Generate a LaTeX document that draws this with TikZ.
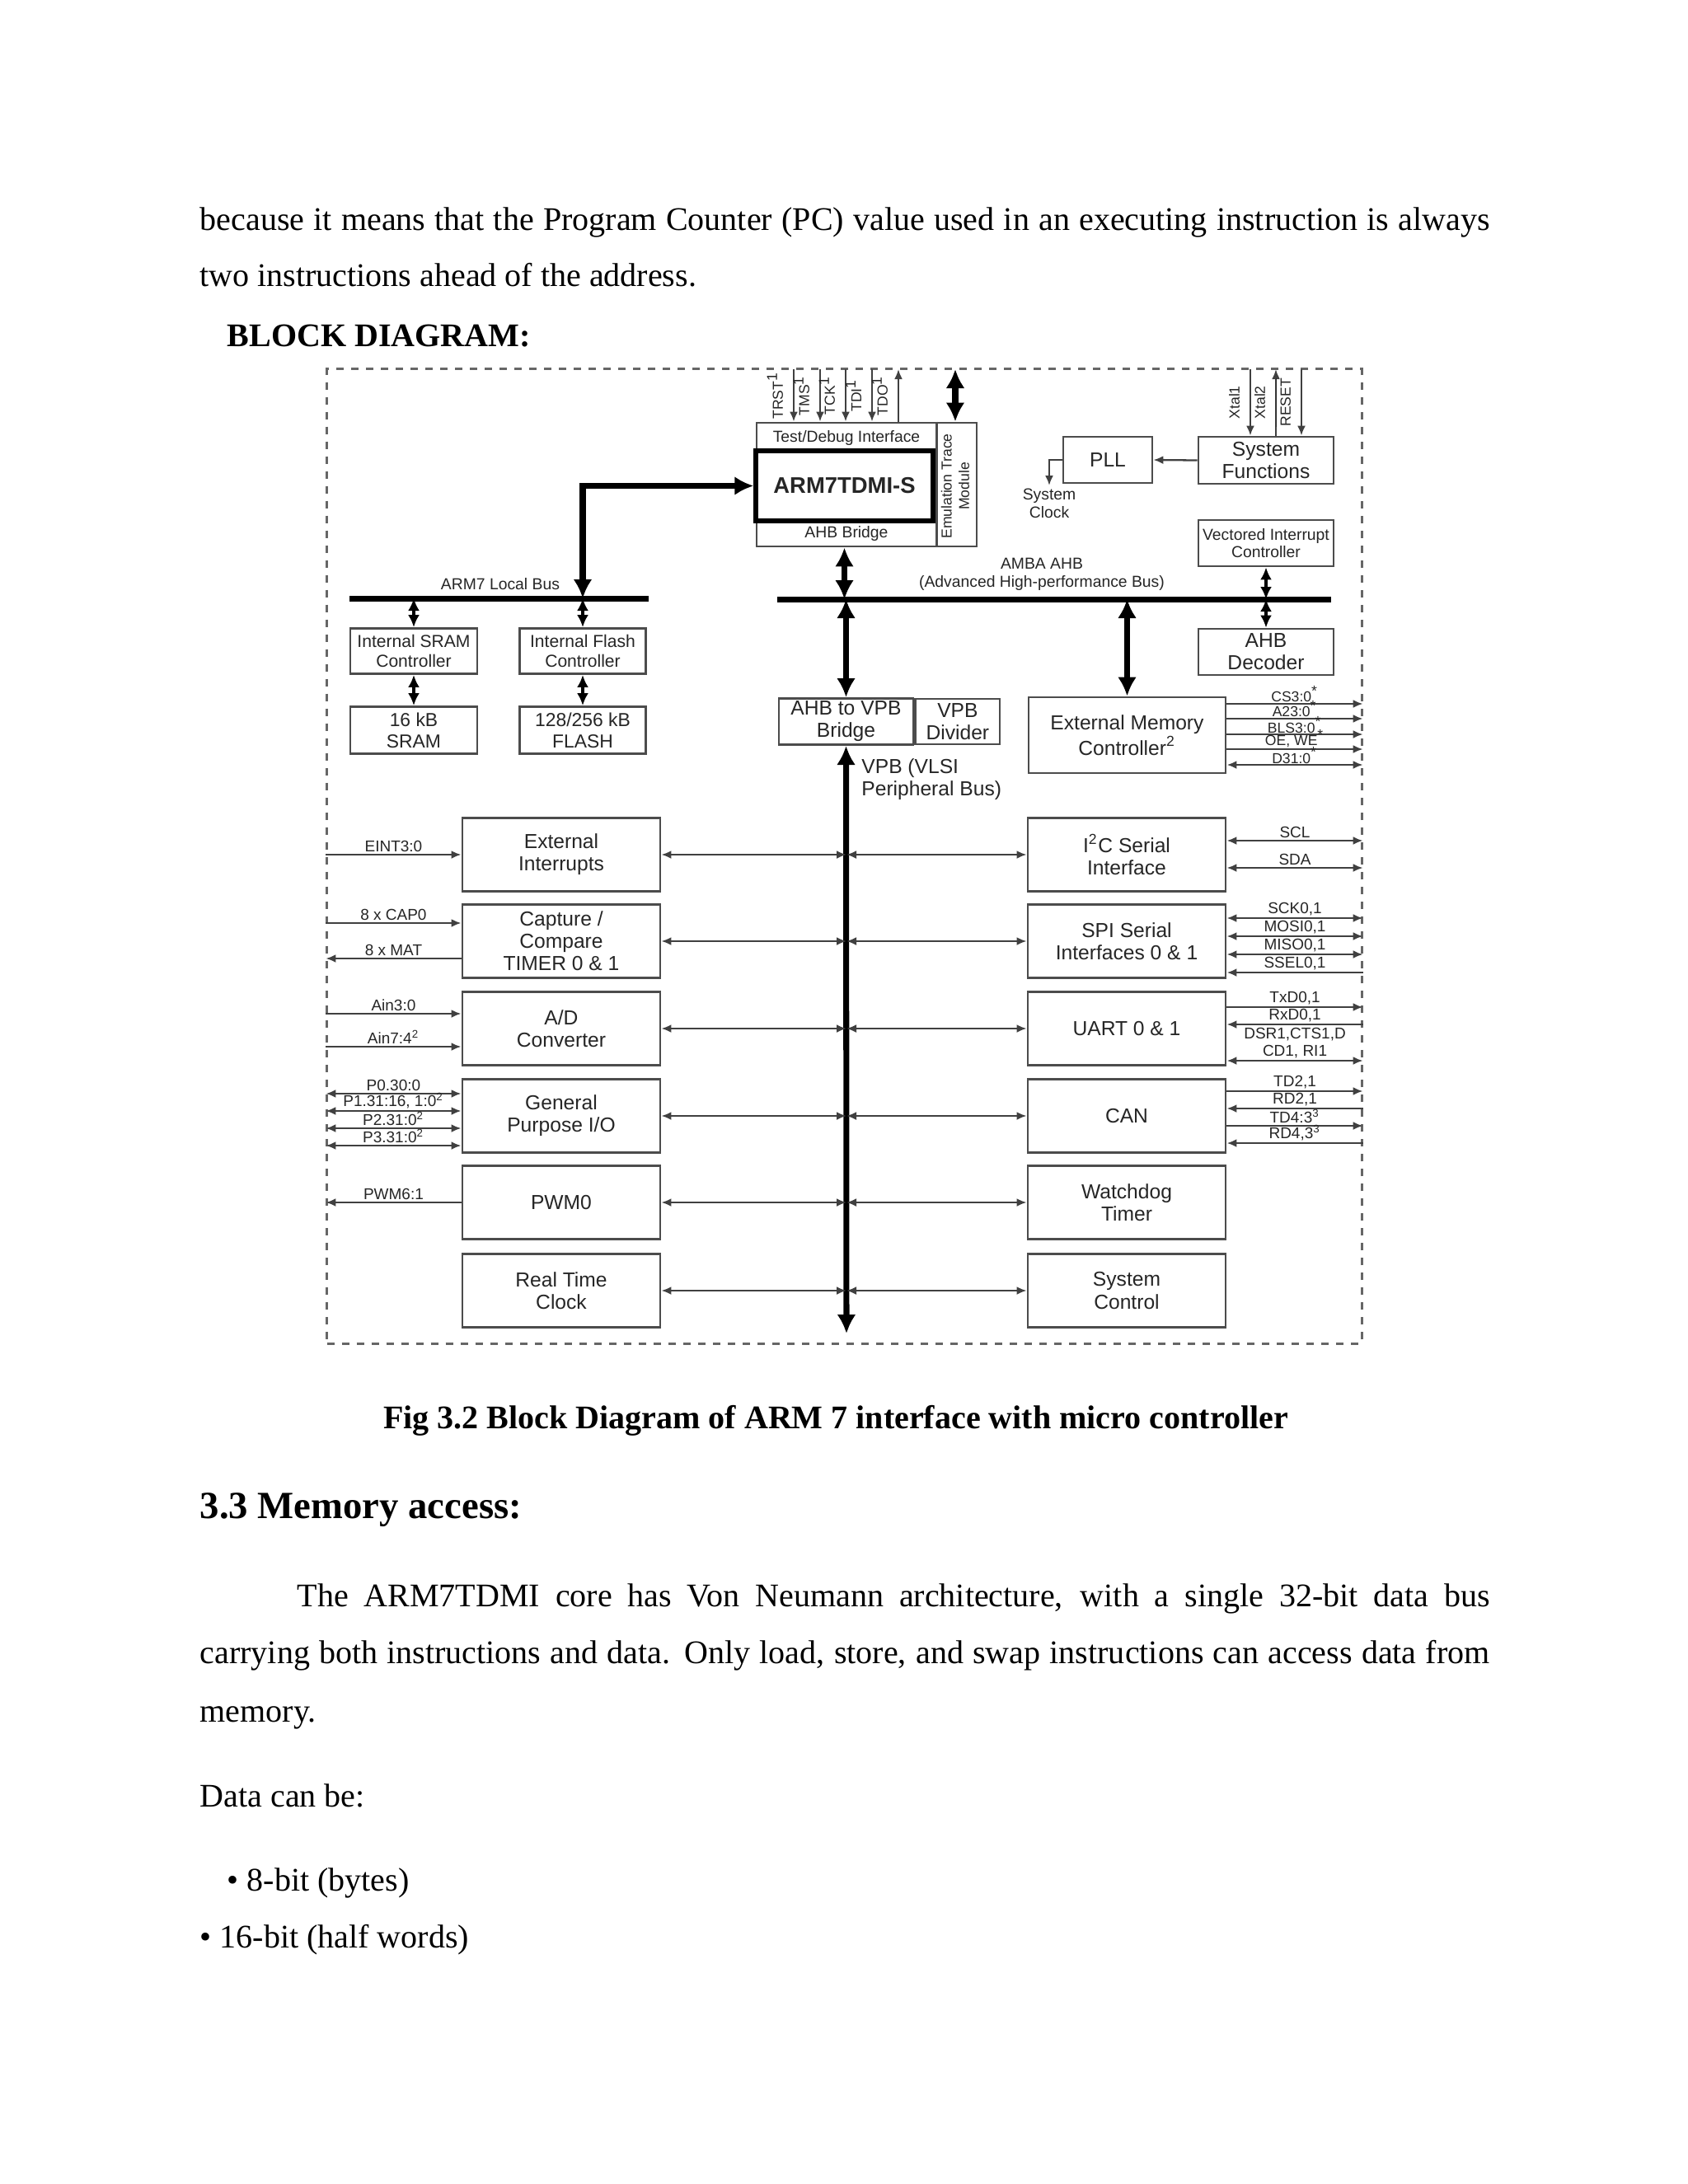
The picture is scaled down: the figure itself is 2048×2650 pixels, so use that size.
\documentclass[tikz,border=0pt]{standalone}
\usepackage{fontspec}
\setmainfont{Liberation Serif}
\newfontfamily\arial{Liberation Sans}
\usetikzlibrary{arrows.meta}

\tikzset{
  >={Latex[length=1.2mm,width=1mm]},
  body/.style={anchor=base west, inner sep=0pt, font=\fontsize{11.38}{19.2}\selectfont},
  blk/.style={draw=black!70, line width=0.8pt, text=black!85, align=center, inner sep=1pt, font=\arial\fontsize{7}{7.7}\selectfont},
  pbox/.style={blk, minimum width=2.4cm, minimum height=0.89cm},
  smalltxt/.style={text=black!85, font=\arial\fontsize{5.5}{6.2}\selectfont},
  lbl/.style={above, inner sep=0.6pt, align=center, text=black!85, font=\arial\fontsize{5.4}{5.8}\selectfont},
  sig/.style={draw=black!75, line width=0.65pt},
  bus/.style={line width=2pt, >={Latex[length=2.3mm,width=2.3mm]}},
  link/.style={line width=0.9pt, >={Latex[length=1.5mm,width=1.4mm]}},
  tobox/.style={<-}, frombox/.style={->}, bothway/.style={<->}
}

\begin{document}
\begin{tikzpicture}[x=0.01cm, y=-0.01cm]
    \useasboundingbox (0,0) rectangle (2048,2650);
    \fill[white] (0,0) rectangle (2048,2650);

    % testo sopra
    \node[body] (t1) at (242,279) {\makebox[15.64cm][s]{because it means that the Program Counter (PC) value used in an executing instruction is always}};
    \node[body] (t2) at (242,347) {two instructions ahead of the address.};
    \node[body, font=\bfseries\fontsize{11.38}{19.2}\selectfont] (t3) at (275,420) {BLOCK DIAGRAM:};

    % cornice
    \node[draw=black!60, dash pattern=on 0.09cm off 0.09cm, line width=0.7pt, minimum width=12.55cm, minimum height=11.82cm, inner sep=0pt] (frame) at (1024.5,1039) {};

    % core
    \node[blk, minimum width=2.67cm, minimum height=1.5cm] (tdi) at (1051.5,588) {};
    \draw[draw=black!70, line width=0.8pt] ([xshift=-0.5cm]tdi.north east) -- ([xshift=-0.5cm]tdi.south east);
    \node[draw=black, line width=1.5pt, fill=white, minimum width=2.15cm, minimum height=0.85cm, text=black!85, font=\arial\bfseries\fontsize{7.8}{8}\selectfont] (arm) at (1024.5,589.5) {ARM7TDMI-S};
    \node[smalltxt] (tdilbl) at (1027,531) {Test/Debug Interface};
    \node[smalltxt] (ahbbr) at (1027,647) {AHB Bridge};
    \node[smalltxt, rotate=90, align=center, font=\arial\fontsize{5}{6}\selectfont] (etm) at (1159,590) {Emulation Trace\\Module};

    % jtag
    \coordinate (jtrst) at (963,448);
    \coordinate (jtms) at (995,448);
    \coordinate (jtck) at (1026,448);
    \coordinate (jtdi) at (1058,448);
    \coordinate (jtdo) at (1090,448);
    \draw[sig,->] (jtrst) -- (jtrst |- tdi.north) node[midway, rotate=90, anchor=south, smalltxt, font=\arial\fontsize{5}{6}\selectfont] {TRST\textsuperscript{1}};
    \draw[sig,->] (jtms) -- (jtms |- tdi.north) node[midway, rotate=90, anchor=south, smalltxt, font=\arial\fontsize{5}{6}\selectfont] {TMS\textsuperscript{1}};
    \draw[sig,->] (jtck) -- (jtck |- tdi.north) node[midway, rotate=90, anchor=south, smalltxt, font=\arial\fontsize{5}{6}\selectfont] {TCK\textsuperscript{1}};
    \draw[sig,->] (jtdi) -- (jtdi |- tdi.north) node[midway, rotate=90, anchor=south, smalltxt, font=\arial\fontsize{5}{6}\selectfont] {TDI\textsuperscript{1}};
    \draw[sig,<-] (jtdo) -- (jtdo |- tdi.north) node[midway, rotate=90, anchor=south, smalltxt, font=\arial\fontsize{5}{6}\selectfont] {TDO\textsuperscript{1}};
    \coordinate (etop) at (1159,448);
    \draw[bus,<->] (etop) -- (etop |- tdi.north);

    % pll e funzioni di sistema
    \node[blk, minimum width=1.08cm, minimum height=0.56cm] (pll) at (1344,558) {PLL};
    \node[blk, minimum width=1.64cm, minimum height=0.57cm] (sysf) at (1536,558.5) {System\\Functions};
    \draw[sig,->] (sysf.west) -- (pll.east);
    \node[smalltxt, align=center, inner sep=1pt] (sclk) at (1273,611) {System\\Clock};
    \draw[sig,->] (pll.west) -| (sclk.north);
    \coordinate (xt1) at (1517,448);
    \coordinate (xt2) at (1548,448);
    \coordinate (rst) at (1579,448);
    \draw[sig,->] (xt1) -- (xt1 |- sysf.north) node[midway, rotate=90, anchor=south, smalltxt, font=\arial\fontsize{5}{6}\selectfont] {Xtal1};
    \draw[sig,<-] (xt2) -- (xt2 |- sysf.north) node[midway, rotate=90, anchor=south, smalltxt, font=\arial\fontsize{5}{6}\selectfont] {Xtal2};
    \draw[sig,->] (rst) -- (rst |- sysf.north) node[midway, rotate=90, anchor=south, smalltxt, font=\arial\fontsize{5}{6}\selectfont] {$\overline{\mbox{RESET}}$};

    % vic e decoder
    \node[blk, minimum width=1.64cm, minimum height=0.56cm, font=\arial\fontsize{5.5}{6.2}\selectfont] (vic) at (1536,659) {Vectored Interrupt\\Controller};
    \node[blk, minimum width=1.64cm, minimum height=0.56cm] (dec) at (1536,791) {AHB\\Decoder};

    % bus AHB
    \coordinate (ahbL) at (943,727);
    \coordinate (ahbR) at (1615,727);
    \draw[line width=2pt] (ahbL) -- (ahbR);
    \node[smalltxt, align=center] (ahblbl) at (1264,697) {AMBA AHB\\(Advanced High-performance Bus)};
    \draw[bus,<->] (arm.center |- tdi.south) -- (arm.center |- ahbL);
    \draw[link,<->] (vic.south) -- (vic.south |- ahbL);
    \draw[link,<->] (dec.north |- ahbL) -- (dec.north);

    % bus locale
    \coordinate (lbL) at (424,726);
    \coordinate (lbR) at (787,726);
    \coordinate (lbA) at (707,726);
    \draw[line width=2pt] (lbL) -- (lbR);
    \node[smalltxt] (lblbl) at (607,709) {ARM7 Local Bus};
    \draw[bus,<->] (arm.west) -| (lbA);

    % memorie
    \node[blk, minimum width=1.54cm, minimum height=0.55cm, font=\arial\fontsize{6}{6.8}\selectfont] (sramc) at (502,790) {Internal SRAM\\Controller};
    \node[blk, minimum width=1.53cm, minimum height=0.55cm, font=\arial\fontsize{6}{6.8}\selectfont] (flashc) at (707,790) {Internal Flash\\Controller};
    \node[blk, minimum width=1.54cm, minimum height=0.57cm, font=\arial\fontsize{6.5}{7.4}\selectfont] (sram) at (502,886) {16 kB\\SRAM};
    \node[blk, minimum width=1.53cm, minimum height=0.57cm, font=\arial\fontsize{6.5}{7.4}\selectfont] (flash) at (707,886) {128/256 kB\\FLASH};
    \draw[link,<->] (sramc.north |- lbL) -- (sramc.north);
    \draw[link,<->] (sramc) -- (sram);
    \draw[link,<->] (flashc.north |- lbL) -- (flashc.north);
    \draw[link,<->] (flashc) -- (flash);

    % bridge e bus VPB
    \node[blk, minimum width=1.63cm, minimum height=0.55cm] (bridge) at (1026.5,875.5) {AHB to VPB\\Bridge};
    \node[blk, minimum width=1.02cm, minimum height=0.55cm, anchor=west] (vdiv) at (bridge.east) {VPB\\Divider};
    \draw[bus,<->] (bridge.north |- ahbL) -- (bridge.north);
    \coordinate (vend) at (1027,1618);
    \draw[bus,<->] (bridge.south) -- (vend);
    \node[blk, draw=none, align=left, anchor=west, inner sep=0pt] (vpblbl) at (1044,946) {VPB (VLSI\\Peripheral Bus)};

    % memoria esterna
    \node[blk, minimum width=2.39cm, minimum height=0.92cm] (emc) at (1367.5,892) {External Memory\\Controller\textsuperscript{2}};
    \draw[bus,<->] (emc.north |- ahbL) -- (emc.north);
    \foreach \dy/\txt/\tip in {0.38/CS3:0/frombox,0.20/A23:0/frombox,0.01/BLS3:0/frombox,-0.17/{OE, WE}/frombox,-0.36/D31:0/bothway}
        \draw[sig,\tip] ([yshift=\dy cm]emc.east) coordinate (s) -- (s -| frame.east) node[lbl, midway, inner sep=0.2pt, font=\arial\fontsize{5}{5.5}\selectfont] {\txt\textsuperscript{*}};

    % periferiche
    \node[pbox] (ext) at (681,1037) {External\\Interrupts};
    \node[pbox] (cap) at (681,1142) {Capture /\\Compare\\TIMER 0 \& 1};
    \node[pbox] (adc) at (681,1248) {A/D\\Converter};
    \node[pbox] (gpio) at (681,1354) {General\\Purpose I/O};
    \node[pbox] (pwm) at (681,1459) {PWM0};
    \node[pbox] (rtc) at (681,1566) {Real Time\\Clock};
    \node[pbox] (i2c) at (1367,1037) {I\textsuperscript{2}C Serial\\Interface};
    \node[pbox] (spi) at (1367,1142) {SPI Serial\\Interfaces 0 \& 1};
    \node[pbox] (uart) at (1367,1248) {UART 0 \& 1};
    \node[pbox] (can) at (1367,1354) {CAN};
    \node[pbox] (wdt) at (1367,1459) {Watchdog\\Timer};
    \node[pbox] (sysc) at (1367,1566) {System\\Control};

    % collegamenti al bus VPB
    \foreach \p in {ext,cap,adc,gpio,pwm,rtc}
        \draw[sig,<->] (\p.east) -- (\p.east -| vend);
    \foreach \p in {i2c,spi,uart,can,wdt,sysc}
        \draw[sig,<->] (\p.west -| vend) -- (\p.west);

    % segnali a sinistra
    \foreach \p/\dy/\txt/\tip in {ext/0/EINT3:0/tobox,cap/0.22/8 x CAP0/tobox,cap/-0.21/8 x MAT/frombox,adc/0.18/Ain3:0/tobox,adc/-0.22/{Ain7:4\textsuperscript{2}}/tobox,gpio/0.27/P0.30:0/bothway,gpio/0.06/{P1.31:16, 1:0\textsuperscript{2}}/bothway,gpio/-0.15/{P2.31:0\textsuperscript{2}}/bothway,gpio/-0.36/{P3.31:0\textsuperscript{2}}/bothway,pwm/0/PWM6:1/frombox}
        \draw[sig,\tip] ([yshift=\dy cm]\p.west) coordinate (s) -- (s -| frame.west) node[lbl, midway] {\txt};

    % segnali a destra
    \foreach \p/\dy/\txt/\tip in {i2c/0.17/SCL/bothway,i2c/-0.16/SDA/bothway,spi/0.28/{SCK0,1}/bothway,spi/0.06/{MOSI0,1}/bothway,spi/-0.16/{MISO0,1}/bothway,spi/-0.38/{SSEL0,1}/tobox,uart/0.26/{TxD0,1}/frombox,uart/0.05/{RxD0,1}/tobox,uart/-0.39/{DSR1,CTS1,D\\CD1, RI1}/bothway,can/0.30/{TD2,1}/frombox,can/0.09/{RD2,1}/tobox,can/-0.12/{TD4:3\textsuperscript{3}}/frombox,can/-0.33/{RD4,3\textsuperscript{3}}/tobox}
        \draw[sig,\tip] ([yshift=\dy cm]\p.east) coordinate (s) -- (s -| frame.east) node[lbl, midway] {\txt};

    % testo sotto
    \node[anchor=base, inner sep=0pt, font=\bfseries\fontsize{11.38}{19.2}\selectfont] (figcap) at (1014,1733) {Fig 3.2 Block Diagram of ARM 7 interface with micro controller};
    \node[body, font=\bfseries\fontsize{13.28}{16}\selectfont] (sec) at (242,1842) {3.3 Memory access:};
    \node[body] (p1) at (360,1949) {\makebox[14.46cm][s]{The ARM7TDMI core has Von Neumann architecture, with a single 32-bit data bus}};
    \node[body] (p2) at (242,2018) {\makebox[15.64cm][s]{carrying both instructions and data. Only load, store, and swap instructions can access data from}};
    \node[body] (p3) at (242,2089) {memory.};
    \node[body] (p4) at (242,2192) {Data can be:};
    \node[body] (p5) at (275,2294) {• 8-bit (bytes)};
    \node[body] (p6) at (242,2363) {• 16-bit (half words)};
\end{tikzpicture}
\end{document}
